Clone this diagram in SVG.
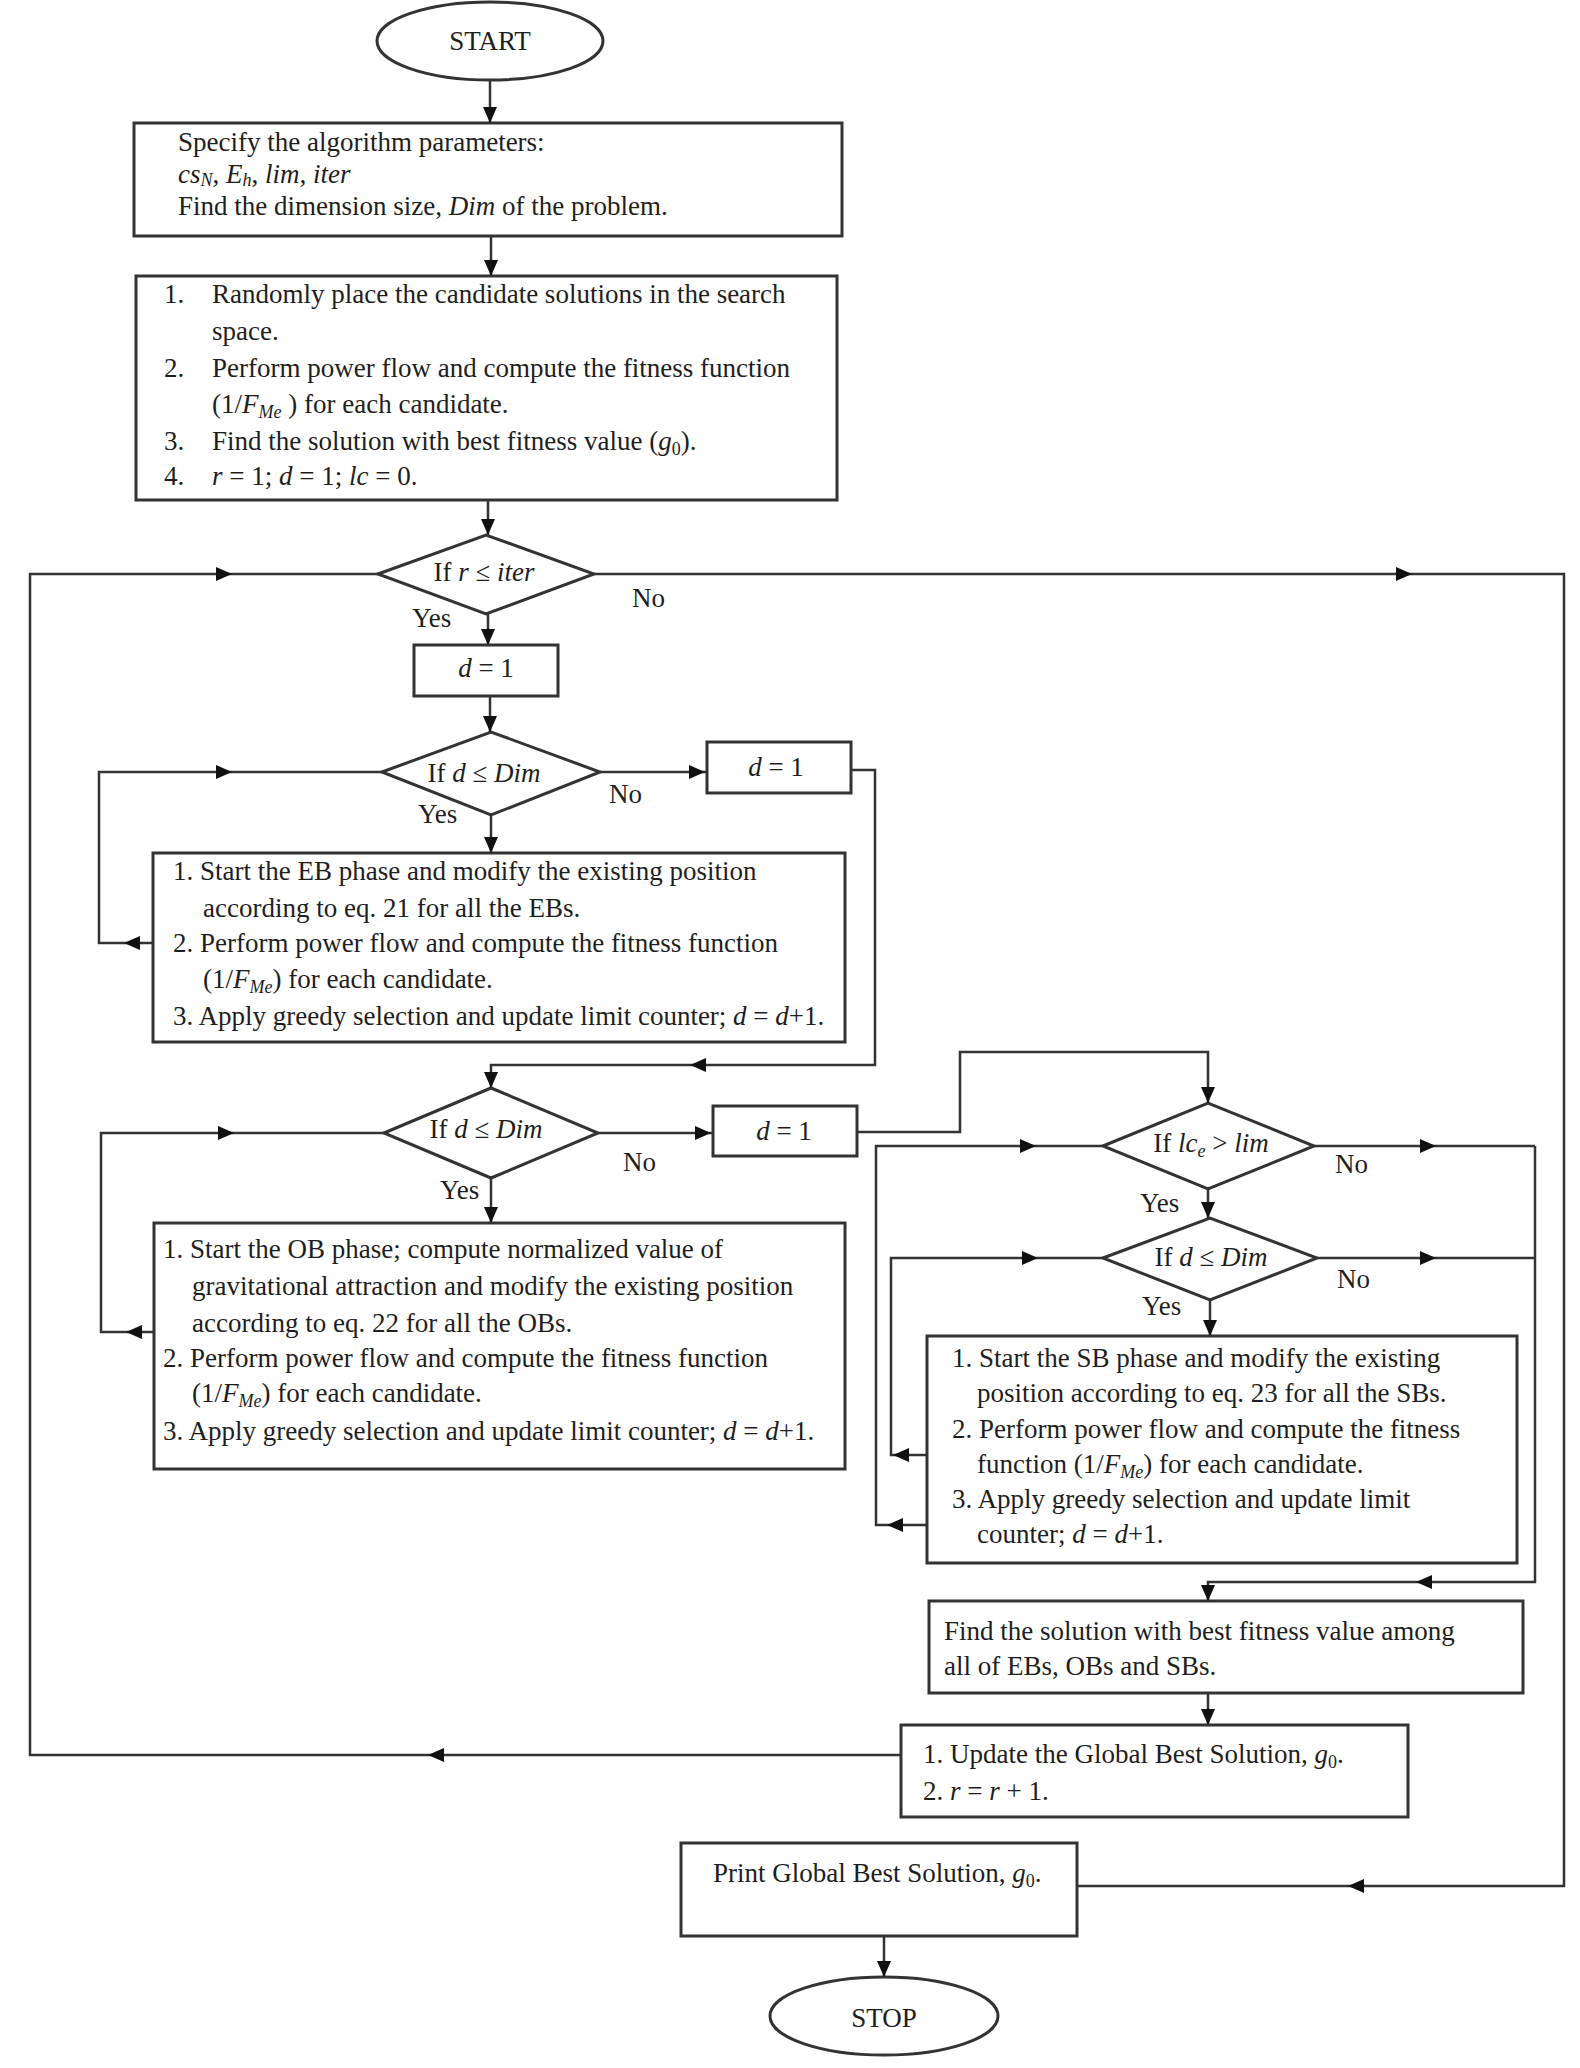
<svg xmlns="http://www.w3.org/2000/svg" xmlns:xlink="http://www.w3.org/1999/xlink" width="1580" height="2068" viewBox="0 0 1580 2068">
<style>
.box{fill:#fff;stroke:#333;stroke-width:3}
.ln{fill:none;stroke:#333;stroke-width:2.5}
.t{font-family:"Liberation Serif","Times New Roman",serif;font-size:27px;fill:#1e1e1e}
.c{text-anchor:middle}
.i{font-style:italic}
.s{font-size:18px}
.ah{fill:#111}
</style>
<defs>
<path id="ah" class="ah" d="M0,0 L-16,-7 L-16,7 Z"/>
</defs>
<rect width="1580" height="2068" fill="#fff"/>

<g id="start">
<ellipse class="box" cx="490" cy="41" rx="113" ry="39"/>
<text class="t c" x="490" y="50">START</text>
</g>

<g id="params">
<rect class="box" x="134" y="123" width="708" height="113"/>
<text class="t" x="178" y="151">Specify the algorithm parameters:</text>
<text class="t" x="178" y="183"><tspan class="i">cs</tspan><tspan class="i s" dy="3">N</tspan><tspan dy="-3">, </tspan><tspan class="i">E</tspan><tspan class="i s" dy="3">h</tspan><tspan dy="-3">, </tspan><tspan class="i">lim</tspan>, <tspan class="i">iter</tspan></text>
<text class="t" x="178" y="215">Find the dimension size, <tspan class="i">Dim</tspan> of the problem.</text>
</g>

<g id="init">
<rect class="box" x="136" y="276" width="701" height="224"/>
<text class="t" x="164" y="303">1.</text>
<text class="t" x="212" y="303">Randomly place the candidate solutions in the search</text>
<text class="t" x="212" y="340">space.</text>
<text class="t" x="164" y="377">2.</text>
<text class="t" x="212" y="377">Perform power flow and compute the fitness function</text>
<text class="t" x="212" y="413">(1/<tspan class="i">F</tspan><tspan class="i s" dy="5">Me</tspan><tspan dy="-5"> ) for each candidate.</tspan></text>
<text class="t" x="164" y="450">3.</text>
<text class="t" x="212" y="450">Find the solution with best fitness value (<tspan class="i">g</tspan><tspan class="s" dy="5">0</tspan><tspan dy="-5">).</tspan></text>
<text class="t" x="164" y="485">4.</text>
<text class="t" x="212" y="485"><tspan class="i">r</tspan> = 1; <tspan class="i">d</tspan> = 1; <tspan class="i">lc</tspan> = 0.</text>
</g>

<g id="cond-r">
<polygon class="box" points="378,574 486,535 594,574 486,614"/>
<text class="t c" x="484" y="581">If <tspan class="i">r</tspan> ≤ <tspan class="i">iter</tspan></text>
</g>

<g id="d-reset-1">
<rect class="box" x="414" y="645" width="144" height="51"/>
<text class="t c" x="486" y="677"><tspan class="i">d</tspan> = 1</text>
</g>

<g id="cond-d-eb">
<polygon class="box" points="382,772 491,732 600,772 491,815"/>
<text class="t c" x="484" y="782">If <tspan class="i">d</tspan> ≤ <tspan class="i">Dim</tspan></text>
</g>

<g id="d-reset-2">
<rect class="box" x="707" y="742" width="144" height="51"/>
<text class="t c" x="776" y="776"><tspan class="i">d</tspan> = 1</text>
</g>

<g id="eb-phase">
<rect class="box" x="153" y="853" width="692" height="189"/>
<text class="t" x="173" y="880">1. Start the EB phase and modify the existing position</text>
<text class="t" x="203" y="917">according to eq. 21 for all the EBs.</text>
<text class="t" x="173" y="952">2. Perform power flow and compute the fitness function</text>
<text class="t" x="203" y="988">(1/<tspan class="i">F</tspan><tspan class="i s" dy="5">Me</tspan><tspan dy="-5">) for each candidate.</tspan></text>
<text class="t" x="173" y="1025">3. Apply greedy selection and update limit counter; <tspan class="i">d</tspan> = <tspan class="i">d</tspan>+1.</text>
</g>

<g id="cond-d-ob">
<polygon class="box" points="384,1133 491,1088 598,1133 491,1178"/>
<text class="t c" x="486" y="1138">If <tspan class="i">d</tspan> ≤ <tspan class="i">Dim</tspan></text>
</g>

<g id="d-reset-3">
<rect class="box" x="713" y="1106" width="144" height="50"/>
<text class="t c" x="784" y="1140"><tspan class="i">d</tspan> = 1</text>
</g>

<g id="ob-phase">
<rect class="box" x="154" y="1223" width="691" height="246"/>
<text class="t" x="163" y="1258">1. Start the OB phase; compute normalized value of</text>
<text class="t" x="192" y="1295">gravitational attraction and modify the existing position</text>
<text class="t" x="192" y="1332">according to eq. 22 for all the OBs.</text>
<text class="t" x="163" y="1367">2. Perform power flow and compute the fitness function</text>
<text class="t" x="192" y="1402">(1/<tspan class="i">F</tspan><tspan class="i s" dy="5">Me</tspan><tspan dy="-5">) for each candidate.</tspan></text>
<text class="t" x="163" y="1440">3. Apply greedy selection and update limit counter; <tspan class="i">d</tspan> = <tspan class="i">d</tspan>+1.</text>
</g>

<g id="cond-lc">
<polygon class="box" points="1103,1146 1208,1103 1314,1146 1208,1189"/>
<text class="t c" x="1211" y="1152">If <tspan class="i">lc</tspan><tspan class="i s" dy="5">e</tspan><tspan dy="-5"> &gt; </tspan><tspan class="i">lim</tspan></text>
</g>

<g id="cond-d-sb">
<polygon class="box" points="1103,1258 1210,1218 1317,1258 1210,1300"/>
<text class="t c" x="1211" y="1266">If <tspan class="i">d</tspan> ≤ <tspan class="i">Dim</tspan></text>
</g>

<g id="sb-phase">
<rect class="box" x="927" y="1336" width="590" height="227"/>
<text class="t" x="952" y="1367">1. Start the SB phase and modify the existing</text>
<text class="t" x="977" y="1402">position according to eq. 23 for all the SBs.</text>
<text class="t" x="952" y="1438">2. Perform power flow and compute the fitness</text>
<text class="t" x="977" y="1473">function (1/<tspan class="i">F</tspan><tspan class="i s" dy="5">Me</tspan><tspan dy="-5">) for each candidate.</tspan></text>
<text class="t" x="952" y="1508">3. Apply greedy selection and update limit</text>
<text class="t" x="977" y="1543">counter; <tspan class="i">d</tspan> = <tspan class="i">d</tspan>+1.</text>
</g>

<g id="find-best">
<rect class="box" x="929" y="1601" width="594" height="92"/>
<text class="t" x="944" y="1640">Find the solution with best fitness value among</text>
<text class="t" x="944" y="1675">all of EBs, OBs and SBs.</text>
</g>

<g id="update-global">
<rect class="box" x="901" y="1725" width="507" height="92"/>
<text class="t" x="923" y="1763">1. Update the Global Best Solution, <tspan class="i">g</tspan><tspan class="s" dy="5">0</tspan><tspan dy="-5">.</tspan></text>
<text class="t" x="923" y="1800">2. <tspan class="i">r</tspan> = <tspan class="i">r</tspan> + 1.</text>
</g>

<g id="print-best">
<rect class="box" x="681" y="1843" width="396" height="93"/>
<text class="t" x="713" y="1882">Print Global Best Solution, <tspan class="i">g</tspan><tspan class="s" dy="5">0</tspan><tspan dy="-5">.</tspan></text>
</g>

<g id="stop">
<ellipse class="box" cx="884" cy="2016" rx="114" ry="39"/>
<text class="t c" x="884" y="2027">STOP</text>
</g>

<g id="connectors">
<path class="ln" d="M490,80 V123"/><use xlink:href="#ah" transform="translate(490,123) rotate(90)"/>
<path class="ln" d="M491,236 V276"/><use xlink:href="#ah" transform="translate(491,276) rotate(90)"/>
<path class="ln" d="M488,500 V535"/><use xlink:href="#ah" transform="translate(488,535) rotate(90)"/>
<path class="ln" d="M901,1755 H30 V574 H378"/>
<use xlink:href="#ah" transform="translate(428,1755) rotate(180)"/>
<use xlink:href="#ah" transform="translate(232,574)"/>
<path class="ln" d="M594,574 H1564 V1886 H1077"/>
<use xlink:href="#ah" transform="translate(1412,574)"/>
<use xlink:href="#ah" transform="translate(1348,1886) rotate(180)"/>
<path class="ln" d="M488,614 V645"/><use xlink:href="#ah" transform="translate(488,645) rotate(90)"/>
<path class="ln" d="M490,696 V732"/><use xlink:href="#ah" transform="translate(490,732) rotate(90)"/>
<path class="ln" d="M153,943 H99 V772 H382"/>
<use xlink:href="#ah" transform="translate(124,943) rotate(180)"/>
<use xlink:href="#ah" transform="translate(232,772)"/>
<path class="ln" d="M600,772 H707"/><use xlink:href="#ah" transform="translate(705,772)"/>
<path class="ln" d="M851,770 H875 V1065 H491 V1088"/>
<use xlink:href="#ah" transform="translate(690,1065) rotate(180)"/>
<use xlink:href="#ah" transform="translate(491,1088) rotate(90)"/>
<path class="ln" d="M491,815 V853"/><use xlink:href="#ah" transform="translate(491,853) rotate(90)"/>
<path class="ln" d="M154,1332 H101 V1133 H384"/>
<use xlink:href="#ah" transform="translate(126,1332) rotate(180)"/>
<use xlink:href="#ah" transform="translate(234,1133)"/>
<path class="ln" d="M598,1133 H713"/><use xlink:href="#ah" transform="translate(711,1133)"/>
<path class="ln" d="M491,1178 V1223"/><use xlink:href="#ah" transform="translate(491,1223) rotate(90)"/>
<path class="ln" d="M857,1132 H960 V1052 H1208 V1103"/><use xlink:href="#ah" transform="translate(1208,1103) rotate(90)"/>
<path class="ln" d="M927,1525 H876 V1146 H1103"/>
<use xlink:href="#ah" transform="translate(887,1525) rotate(180)"/>
<use xlink:href="#ah" transform="translate(1036,1146)"/>
<path class="ln" d="M927,1455 H891 V1258 H1103"/>
<use xlink:href="#ah" transform="translate(893,1455) rotate(180)"/>
<use xlink:href="#ah" transform="translate(1038,1258)"/>
<path class="ln" d="M1208,1189 V1218"/><use xlink:href="#ah" transform="translate(1208,1218) rotate(90)"/>
<path class="ln" d="M1210,1300 V1336"/><use xlink:href="#ah" transform="translate(1210,1336) rotate(90)"/>
<path class="ln" d="M1314,1146 H1535"/>
<path class="ln" d="M1317,1258 H1535"/>
<path class="ln" d="M1535,1146 V1582 H1208 V1601"/>
<use xlink:href="#ah" transform="translate(1436,1146)"/>
<use xlink:href="#ah" transform="translate(1436,1258)"/>
<use xlink:href="#ah" transform="translate(1416,1582) rotate(180)"/>
<use xlink:href="#ah" transform="translate(1208,1601) rotate(90)"/>
<path class="ln" d="M1208,1693 V1725"/><use xlink:href="#ah" transform="translate(1208,1725) rotate(90)"/>
<path class="ln" d="M884,1936 V1977"/><use xlink:href="#ah" transform="translate(884,1977) rotate(90)"/>
<text class="t" x="412" y="627">Yes</text>
<text class="t" x="632" y="607">No</text>
<text class="t" x="418" y="823">Yes</text>
<text class="t" x="609" y="803">No</text>
<text class="t" x="440" y="1199">Yes</text>
<text class="t" x="623" y="1171">No</text>
<text class="t" x="1140" y="1212">Yes</text>
<text class="t" x="1335" y="1173">No</text>
<text class="t" x="1142" y="1315">Yes</text>
<text class="t" x="1337" y="1288">No</text>
</g>
</svg>
